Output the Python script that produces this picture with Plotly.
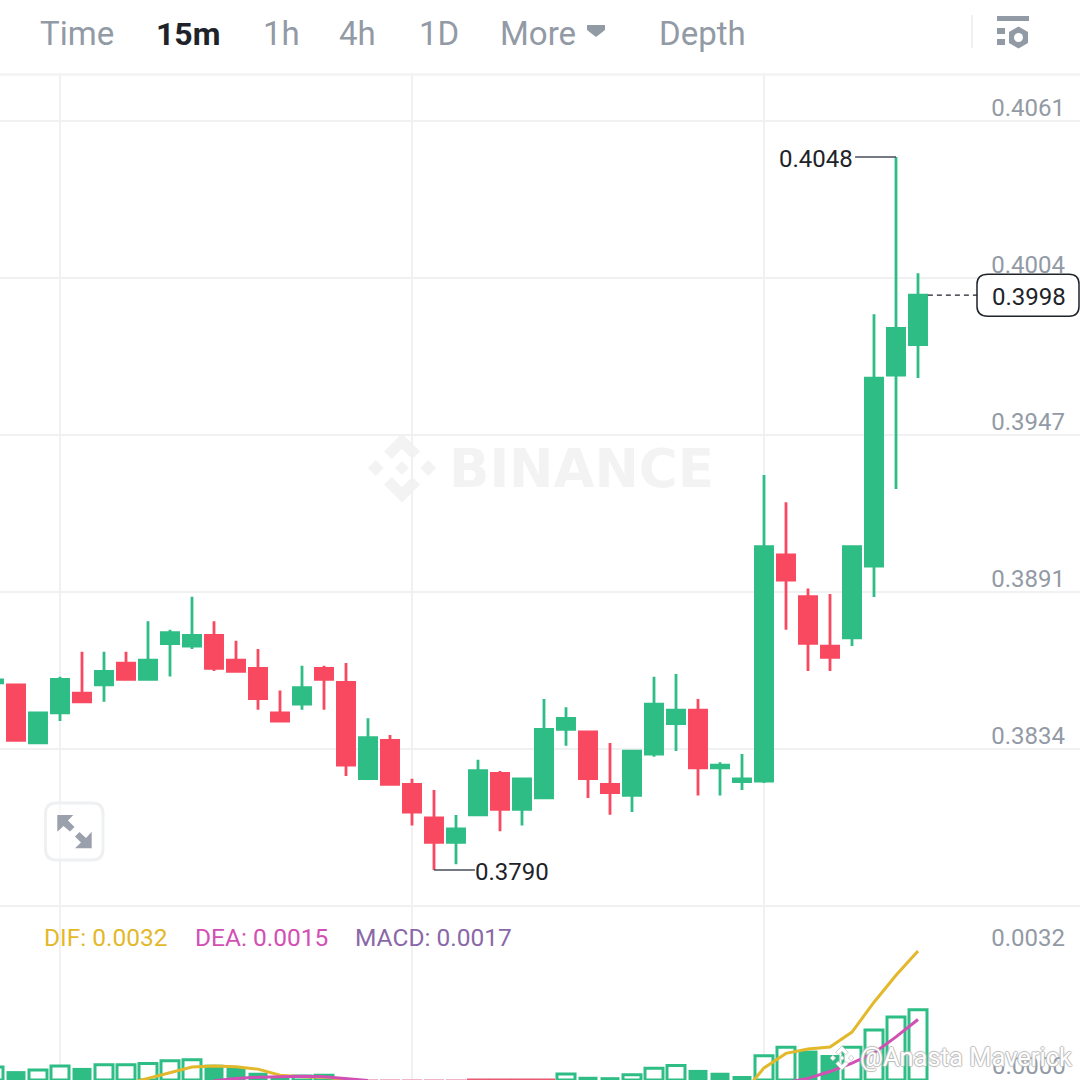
import plotly.graph_objects as go

# ---- data ----
candle_x = list(range(-1, 42))
opens = [.38577, .38570, .38360, .38469, .38540, .38570, .38649, .38590, .38719, .38710, .38749,
         .38659, .38630, .38469, .38500, .38630, .38579, .38231, .38369, .38210, .38089, .38000,
         .38100, .38250, .38120, .38161, .38409, .38400, .38210, .38170, .38320, .38430, .38479,
         .38270, .38220, .38222, .39040, .38889, .38710, .38740, .39000, .39691, .39801]
highs = [.38590, .38570, .38469, .38599, .38690, .38690, .38690, .38800, .38769, .38889, .38800,
         .38730, .38700, .38550, .38639, .38639, .38649, .38449, .38389, .38230, .38190, .38099,
         .38299, .38258, .38230, .38519, .38489, .38400, .38360, .38330, .38599, .38609, .38519,
         .38290, .38320, .39329, .39231, .38919, .38899, .39070, .39911, .40480, .40059]
lows = [.38577, .38369, .38360, .38439, .38509, .38509, .38590, .38590, .38600, .38700, .38620,
        .38619, .38480, .38439, .38480, .38480, .38240, .38231, .38210, .38061, .37900, .37921,
        .38100, .38040, .38061, .38161, .38350, .38161, .38100, .38110, .38310, .38331, .38170,
        .38170, .38190, .38215, .38769, .38620, .38620, .38711, .38888, .39279, .39680]
closes = [.38588, .38369, .38469, .38590, .38509, .38619, .38590, .38659, .38759, .38749, .38630,
          .38619, .38520, .38439, .38560, .38590, .38280, .38379, .38210, .38110, .38000, .38049,
          .38260, .38120, .38230, .38409, .38449, .38231, .38180, .38330, .38500, .38479, .38270,
          .38280, .38230, .39070, .38949, .38720, .38670, .39070, .39680, .39860, .39980]

macd = [.00032, .00022, .00025, .00035, .00030, .00038, .00038, .00041, .00048, .00050, .00038,
        .00030, .00018, .00010, .00010, .00012, -.00002, -.00010, -.00018, -.00026, -.00036, -.00042,
        -.00036, -.00028, -.00020, -.00008, .00015, .00008, .00007, .00013, .00029, .00036, .00025,
        .00018, .00010, .00060, .00081, .00073, .00062, .00081, .00124, .00156, .00174]

# DIF / DEA are only readable where they rise above the zero line of the pane
dif_x = [5, 6, 7, 8, 9, 10, 11, 12, 13, 14, 15, 16, 33, 34, 35, 36, 37, 38, 39, 40, 41]
dif_v = [-.00010, .00004, .00018, .00032, .00035, .00033, .00027, .00012, .00008, .00007, .00002,
         -.00005, -.00036, .00030, .00066, .00077, .00082, .00119, .00193, .00260, .00320]
dea_left_x = [9, 10, 11, 12, 13, 14, 15, 16]
dea_left_v = [-.00002, .00004, .00007, .00008, .00009, .00008, .00004, -.00001]
dea_right_x = [35, 36, 37, 38, 39, 40, 41]
dea_right_v = [-.00006, .00004, .00021, .00042, .00067, .00107, .00150]

price_ticks = [.37770, .38338, .38906, .39474, .40042, .40610]
macd_ticks = [.0032]
macd_floor = 0.0
macd_top_tick = .0032
grid_x = [2, 18, 34]
header_items = [("Time", 41), ("15m", 157), ("1h", 264), ("4h", 340), ("1D", 420), ("More", 501), ("Depth", 660)]
active_item = "15m"

# ---- styling ----
GREEN, RED = "#2EBD85", "#F84960"
PINK_EDGE = "#F3B3CB"
GREY, DARK, GRID = "#929AA5", "#1E2329", "#F0F1F3"
YEL, MAG, PUR = "#E3B82B", "#D24FB4", "#8A68A8"
FONT = "Roboto"
S = 1080.0
px, py = (lambda v: v / S), (lambda v: 1 - v / S)


def poly(pts, fill, line=None, lw=0, layer="above"):
    d = "M " + " L ".join(f"{px(a):.5f},{py(b):.5f}" for a, b in pts) + " Z"
    return dict(type="path", xref="paper", yref="paper", path=d, fillcolor=fill,
                line=dict(color=line or fill, width=lw), layer=layer)


def round_rect(x0, y0, x1, y1, r, fill, line, lw):
    P = lambda a, b: f"{px(a):.5f},{py(b):.5f}"
    d = (f"M {P(x0 + r, y0)} L {P(x1 - r, y0)} Q {P(x1, y0)} {P(x1, y0 + r)} L {P(x1, y1 - r)} "
         f"Q {P(x1, y1)} {P(x1 - r, y1)} L {P(x0 + r, y1)} Q {P(x0, y1)} {P(x0, y1 - r)} "
         f"L {P(x0, y0 + r)} Q {P(x0, y0)} {P(x0 + r, y0)} Z")
    return dict(type="path", xref="paper", yref="paper", path=d, fillcolor=fill, line=dict(color=line, width=lw))


def logo(cx, cy, r, fill, line=None, lw=0, layer="below"):
    pieces = [
        [(0, -1), (.52, -.48), (.3, -.26), (0, -.56), (-.3, -.26), (-.52, -.48)],
        [(0, 1), (.52, .48), (.3, .26), (0, .56), (-.3, .26), (-.52, .48)],
        [(0, -.2), (.2, 0), (0, .2), (-.2, 0)],
        [(-.76, -.23), (-.53, 0), (-.76, .23), (-.99, 0)],
        [(.76, -.23), (.99, 0), (.76, .23), (.53, 0)],
    ]
    return [poly([(cx + a * r, cy + b * r) for a, b in p], fill, line, lw, layer) for p in pieces]


fig = go.Figure()

# MACD histogram: hollow while the magnitude grows, solid while it shrinks
hollow_pos, solid_pos, hollow_neg, solid_neg = [], [], [], []
for k, (x, v) in enumerate(zip(candle_x, macd)):
    grow = k == 0 or abs(v) >= abs(macd[k - 1])
    (hollow_pos if v >= 0 and grow else solid_pos if v >= 0 else hollow_neg if grow else solid_neg).append((x, v))


def bars(pairs, width, fill, edge, lw):
    fig.add_trace(go.Bar(x=[p[0] for p in pairs], y=[p[1] for p in pairs], width=width, xaxis="x", yaxis="y2",
                         marker=dict(color=fill, line=dict(color=edge, width=lw)), showlegend=False))


bars(solid_pos, 19 / 22, GREEN, GREEN, 0)
bars(hollow_pos, 18 / 22, "#FFFFFF", GREEN, 3)
bars(hollow_neg, 18 / 22, "#FFFFFF", PINK_EDGE, 2)
bars(solid_neg, 19.5 / 22, RED, "#E85A72", 3)

for xs, ys, col in [(dif_x, dif_v, YEL), (dea_left_x, dea_left_v, MAG), (dea_right_x, dea_right_v, MAG)]:
    fig.add_trace(go.Scatter(x=xs, y=ys, mode="lines", xaxis="x", yaxis="y2", showlegend=False,
                             line=dict(color=col, width=3), cliponaxis=True))

fig.add_trace(go.Candlestick(x=candle_x, open=opens, high=highs, low=lows, close=closes, xaxis="x", yaxis="y",
                             increasing=dict(line=dict(color=GREEN, width=2.8), fillcolor=GREEN),
                             decreasing=dict(line=dict(color=RED, width=2.8), fillcolor=RED),
                             whiskerwidth=0, showlegend=False))

hi = max(highs)
hi_x = candle_x[highs.index(hi)]
lo = min(lows)
lo_x = candle_x[lows.index(lo)]
last_x, last_c = candle_x[-1], closes[-1]

shapes = []
# header rule, separator, icons
shapes.append(dict(type="rect", xref="paper", yref="paper", x0=0, x1=1, y0=py(76), y1=py(73),
                   fillcolor="#F5F5F5", line=dict(width=0), layer="below"))
shapes.append(dict(type="line", xref="paper", yref="paper", x0=px(972), x1=px(972), y0=py(15), y1=py(48),
                   line=dict(color="#EEF0F2", width=2)))
shapes.append(poly([(587, 25), (605, 25), (605, 30), (596, 37), (587, 30)], GREY))
shapes.append(poly([(997, 16), (1029, 16), (1029, 21), (997, 21)], GREY))
shapes.append(poly([(997, 28), (1005, 28), (1005, 34), (997, 34)], GREY))
shapes.append(poly([(997, 39), (1005, 39), (1005, 45), (997, 45)], GREY))
shapes.append(poly([(1018.5, 26.5), (1028, 32), (1028, 43), (1018.5, 48.5), (1009, 43), (1009, 32)], GREY))
shapes.append(dict(type="circle", xref="paper", yref="paper", x0=px(1014), x1=px(1023), y0=py(42), y1=py(33),
                   fillcolor="#FFFFFF", line=dict(width=0)))
# pane divider
shapes.append(dict(type="line", xref="paper", yref="paper", x0=0, x1=1, y0=py(906), y1=py(906),
                   line=dict(color=GRID, width=2), layer="below"))
# background watermark
shapes += logo(402, 468, 34.5, "#F3F3F4")
# expand button
shapes.append(round_rect(45.5, 803, 103, 860, 11, "rgba(255,255,255,0.6)", "#EEF0F2", 3))
shapes.append(poly([(57.3, 815), (73.3, 815), (68, 820.5), (74.5, 827), (70, 831.5), (63.5, 826), (57.3, 831.7)], "#9AA0AC"))
shapes.append(poly([(91.7, 831.7), (91.7, 848.3), (75, 848.3), (81, 842.5), (75, 836.5), (79.5, 832), (86, 838)], "#9AA0AC"))
# high / low leader lines
shapes.append(dict(type="line", xref="x", yref="y", x0=hi_x - 1.86, x1=hi_x, y0=hi, y1=hi, line=dict(color="#474D57", width=1.5)))
shapes.append(dict(type="line", xref="x", yref="y", x0=lo_x, x1=lo_x + 1.86, y0=lo, y1=lo, line=dict(color="#474D57", width=1.5)))
# last price
shapes.append(dict(type="line", xref="x", yref="y", x0=last_x + .45, x1=(977 - 16) / 22, y0=last_c, y1=last_c,
                   line=dict(color=DARK, width=1.4, dash="5px,4px")))
shapes.append(dict(type="path", xref="paper", yref="y", xsizemode="pixel", ysizemode="pixel", xanchor=1, yanchor=last_c,
                   path="M -92,-21 L -11,-21 Q -1,-21 -1,-11 L -1,11 Q -1,21 -11,21 L -92,21 Q -103,21 -103,11 L -103,-11 Q -103,-21 -92,-21 Z",
                   fillcolor="#FFFFFF", line=dict(color=DARK, width=1.5)))
# foreground watermark logo
shapes += logo(842, 1058, 12, "#FFFFFF", "#C4C4C4", 0.8, layer="above")

ann = []
for t, x in header_items:
    on = t == active_item
    ann.append(dict(text=f"<b>{t}</b>" if on else t, x=px(x - 3), y=py(34), xref="paper", yref="paper", xanchor="left",
                    yanchor="middle", showarrow=False, font=dict(family=FONT, size=32 if on else 33, color=DARK if on else GREY)))
ann.append(dict(text="BINANCE", x=px(581), y=py(468), xref="paper", yref="paper", showarrow=False,
                font=dict(family="DejaVu Sans", size=53, color="#F3F3F4", weight="bold"), xanchor="center", yanchor="middle"))
ann.append(dict(text=f"{hi:.4f}", x=hi_x - 1.85, y=hi, xref="x", yref="y", xanchor="right", yanchor="middle", yshift=-2,
                showarrow=False, font=dict(family=FONT, size=24, color=DARK)))
ann.append(dict(text=f"{lo:.4f}", x=lo_x + 1.78, y=lo, xref="x", yref="y", xanchor="left", yanchor="middle", yshift=-2,
                showarrow=False, font=dict(family=FONT, size=24, color=DARK)))
ann.append(dict(text=f"{last_c:.4f}", x=px(1068), y=last_c, xref="paper", yref="y", xanchor="right", yanchor="middle", yshift=-2,
                showarrow=False, font=dict(family=FONT, size=24, color=DARK)))
for t, x, c in [(f"DIF: {dif_v[-1]:.4f}", 42, YEL), (f"DEA: {dea_right_v[-1]:.4f}", 193, MAG), (f"MACD: {macd[-1]:.4f}", 353, PUR)]:
    ann.append(dict(text=t, x=px(x), y=py(937), xref="paper", yref="paper", xanchor="left", yanchor="middle",
                    showarrow=False, font=dict(family=FONT, size=24.5, color=c)))
# zero label of the MACD pane: it sits just above the pane floor, beneath the watermark
ann.append(dict(text=f"{macd_floor:.4f}", x=px(1068), y=macd_floor, xref="paper", yref="y2", xanchor="right", yanchor="middle",
                yshift=14, showarrow=False, font=dict(family=FONT, size=24, color=GREY)))
ann.append(dict(text="@Anasta Maverick", x=px(1074), y=py(1057), xref="paper", yref="paper", xanchor="right", yanchor="middle",
                showarrow=False, font=dict(family=FONT, size=25.5, color="#FFFFFF",
                                           shadow="1px 0 1px #BBB, -1px 0 1px #BBB, 0 1px 1px #BBB, 0 -1px 1px #BBB")))

per_px = (price_ticks[-1] - price_ticks[0]) / 785
y_top = price_ticks[-1] + 46 * per_px
tick_font = dict(family=FONT, size=24, color=GREY)
fig.update_layout(
    width=1080, height=1080, margin=dict(l=0, r=0, t=0, b=0), paper_bgcolor="#FFFFFF", plot_bgcolor="#FFFFFF",
    barmode="overlay", boxgap=0.22, boxgroupgap=0, hovermode=False, showlegend=False,
    xaxis=dict(domain=[0, 1], range=[-16 / 22, (S - 16) / 22], anchor="y2", tickmode="array", tickvals=grid_x,
               showticklabels=False, showgrid=True, gridcolor=GRID, gridwidth=1.5, zeroline=False, ticks="",
               showline=False, rangeslider=dict(visible=False)),
    yaxis=dict(domain=[py(906), py(75)], range=[price_ticks[0], y_top], side="right", anchor="x", tickmode="array",
               tickvals=price_ticks, tickformat=".4f", ticklabelposition="inside top", ticklabelstandoff=12,
               ticklabelshift=3, tickfont=tick_font, showgrid=True, gridcolor=GRID, gridwidth=1.5, zeroline=False,
               ticks="", showline=False),
    yaxis2=dict(domain=[0, py(906)], range=[macd_floor, macd_top_tick * 174 / 129], side="right", anchor="x", tickmode="array",
                tickvals=macd_ticks, tickformat=".4f", ticklabelposition="inside top", ticklabelstandoff=12,
                ticklabelshift=3, tickfont=tick_font, showgrid=False, zeroline=False, ticks="", showline=False),
    shapes=shapes, annotations=ann,
)
fig.write_html("out.html", config=dict(displayModeBar=False),
               post_script="document.body.style.margin='0';document.body.style.overflow='hidden';")
